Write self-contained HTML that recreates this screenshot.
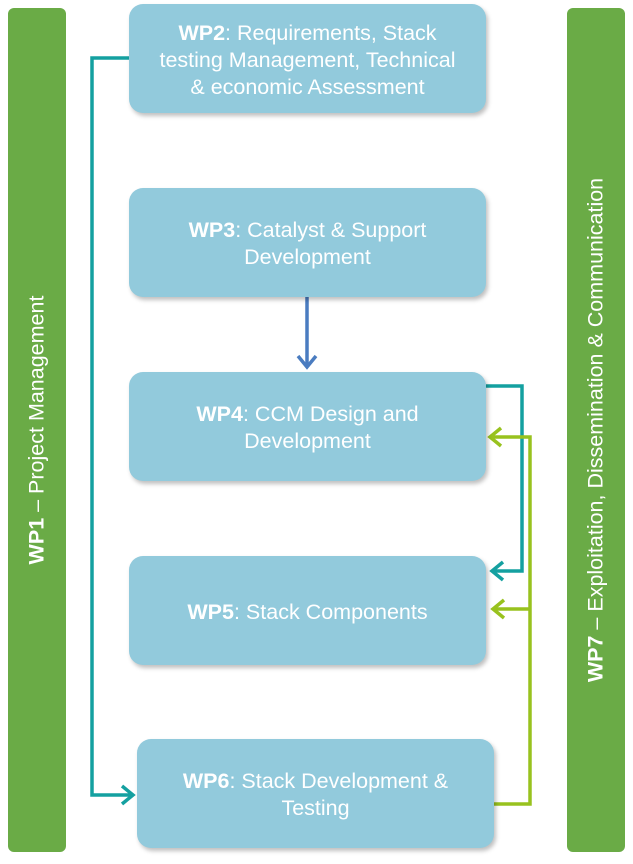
<!DOCTYPE html>
<html><head><meta charset="utf-8"><style>
body{margin:0;width:633px;height:864px;background:#fff;position:relative;overflow:hidden;font-family:"Liberation Sans",sans-serif}
.bar{position:absolute;top:8px;width:58px;height:844px;background:#6aab46;border-radius:6px}
.bt{position:absolute;left:50%;top:50%;color:#fff;font-size:21.5px;white-space:nowrap;transform:translate(-50%,-50%) rotate(-90deg)}
.box{position:absolute;width:357px;height:109px;background:#92cadc;border-radius:14px;box-shadow:2px 3px 4px rgba(0,0,0,.25);color:#fff;font-size:21.5px;line-height:27px;text-align:center;display:flex;align-items:center;justify-content:center}
.box div{margin-top:3px}
b{font-weight:bold}
svg{position:absolute;left:0;top:0}
</style></head><body>
<div class="bar" style="left:8px"><div class="bt"><b>WP1</b> – Project Management</div></div>
<div class="bar" style="left:567px"><div class="bt"><b>WP7</b> – Exploitation, Dissemination &amp; Communication</div></div>
<svg width="633" height="864">
<g fill="none" stroke-width="3.5" stroke-linejoin="miter">
<polyline points="129,58 92,58 92,795 133,795" stroke="#14a0a0"/>
<polyline points="122,786 133,795 122,804" stroke="#14a0a0"/>
<line x1="307" y1="297" x2="307" y2="367" stroke="#4a7cc0"/>
<polyline points="298,356 307,367 316,356" stroke="#4a7cc0"/>
<polyline points="486,386 522,386 522,571 492,571" stroke="#14a0a0"/>
<polyline points="503,562 492,571 503,580" stroke="#14a0a0"/>
<polyline points="494,804 530,804 530,437 490,437" stroke="#98c21e"/>
<polyline points="501,428 490,437 501,446" stroke="#98c21e"/>
<line x1="530" y1="609" x2="493" y2="609" stroke="#98c21e"/>
<polyline points="504,600 493,609 504,618" stroke="#98c21e"/>
</g></svg>
<div class="box" style="left:129px;top:4px"><div><b>WP2</b>: Requirements, Stack<br>testing Management, Technical<br>&amp; economic Assessment</div></div>
<div class="box" style="left:129px;top:188px"><div><b>WP3</b>: Catalyst &amp; Support<br>Development</div></div>
<div class="box" style="left:129px;top:372px"><div><b>WP4</b>: CCM Design and<br>Development</div></div>
<div class="box" style="left:129px;top:556px"><div><b>WP5</b>: Stack Components</div></div>
<div class="box" style="left:137px;top:739px"><div><b>WP6</b>: Stack Development &amp;<br>Testing</div></div>
</body></html>
